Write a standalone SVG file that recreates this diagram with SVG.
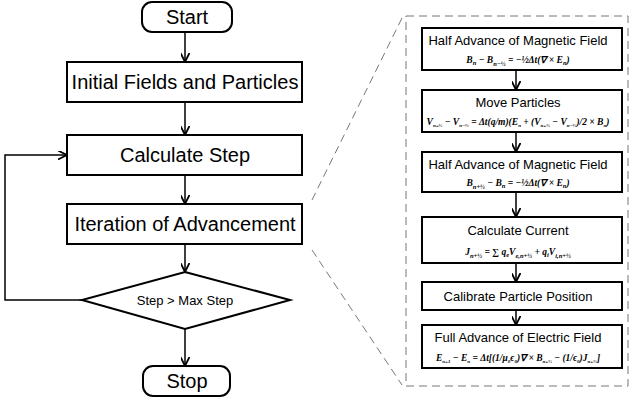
<svg xmlns="http://www.w3.org/2000/svg" width="630" height="400" viewBox="0 0 630 400">
<style>
.b{fill:#fff;stroke:#000;stroke-width:2}
.t{font-family:"Liberation Sans",Arial,sans-serif;fill:#000;text-anchor:middle}
.L{font-size:20px}.S{font-size:13px}
.f{font-family:"Liberation Serif","Times New Roman",serif;font-size:9.5px;text-anchor:middle;font-style:italic;font-weight:bold}
.c{stroke:#000;stroke-width:1.5;fill:none}
.d{stroke:#777;stroke-width:1;fill:none;stroke-dasharray:8 5}
</style>
<defs><marker id="a" viewBox="0 0 10 10" refX="9" refY="5" markerWidth="6" markerHeight="6" orient="auto"><path d="M0,0L10,5L0,10" fill="none" stroke="#000" stroke-width="2"/></marker></defs>
<g id="connectors">
<line class="c" x1="185" y1="32" x2="185" y2="61" marker-end="url(#a)"/>
<line class="c" x1="185" y1="102" x2="185" y2="134" marker-end="url(#a)"/>
<line class="c" x1="185" y1="175" x2="185" y2="203" marker-end="url(#a)"/>
<line class="c" x1="185" y1="244" x2="185" y2="271" marker-end="url(#a)"/>
<line class="c" x1="185" y1="329" x2="185" y2="365" marker-end="url(#a)"/>
<polyline class="c" points="82,300 5,300 5,155 66,155" marker-end="url(#a)"/>
<line class="c" x1="516" y1="70" x2="516" y2="89" marker-end="url(#a)"/>
<line class="c" x1="516" y1="132" x2="516" y2="151" marker-end="url(#a)"/>
<line class="c" x1="516" y1="192" x2="516" y2="216" marker-end="url(#a)"/>
<line class="c" x1="516" y1="263" x2="516" y2="281" marker-end="url(#a)"/>
<line class="c" x1="516" y1="310" x2="516" y2="324" marker-end="url(#a)"/>
<line class="d" x1="312" y1="200" x2="402" y2="18"/>
<line class="d" x1="312" y1="250" x2="402" y2="385"/>
<rect class="d" x="406" y="16" width="222" height="370"/>
</g>
<g id="start"><rect class="b" x="142" y="2" width="90" height="30" rx="10"/><text class="t L" x="187" y="24">Start</text></g>
<g id="init"><rect class="b" x="67" y="62" width="235" height="40"/><text class="t L" x="185" y="89">Initial Fields and Particles</text></g>
<g id="calc"><rect class="b" x="67" y="135" width="235" height="40"/><text class="t L" x="185" y="162">Calculate Step</text></g>
<g id="iter"><rect class="b" x="67" y="204" width="235" height="40"/><text class="t L" x="185" y="231">Iteration of Advancement</text></g>
<g id="dec"><polygon class="b" points="185,272 290,300 185,329 82,300"/><text class="t S" x="185" y="305">Step &gt; Max Step</text></g>
<g id="stop"><rect class="b" x="143" y="366" width="87" height="30" rx="10"/><text class="t L" x="187" y="388">Stop</text></g>
<g id="r1"><rect class="b" x="422" y="28" width="200" height="42"/><text class="t S" x="518" y="45">Half Advance of Magnetic Field</text><text class="f" x="518" y="63">B<tspan font-size="6.5" dy="2">n</tspan><tspan dy="-2"> − B</tspan><tspan font-size="6.5" dy="3">n−½</tspan><tspan dy="-3"> = −½Δt(∇ × E</tspan><tspan font-size="6.5" dy="2">n</tspan><tspan dy="-2">)</tspan></text></g>
<g id="r2"><rect class="b" x="422" y="90" width="200" height="42"/><text class="t S" x="518" y="107">Move Particles</text><text class="f" x="518" y="125" font-size="7.5">V<tspan font-size="5" dy="2">n+½</tspan><tspan dy="-2"> − V</tspan><tspan font-size="5" dy="2">n−½</tspan><tspan dy="-2"> = Δt(q/m)(E</tspan><tspan font-size="5" dy="2">n</tspan><tspan dy="-2"> + (V</tspan><tspan font-size="5" dy="2">n+½</tspan><tspan dy="-2"> − V</tspan><tspan font-size="5" dy="2">n−½</tspan><tspan dy="-2">)/2 × B</tspan><tspan font-size="5" dy="2">n</tspan><tspan dy="-2">)</tspan></text></g>
<g id="r3"><rect class="b" x="422" y="152" width="200" height="40"/><text class="t S" x="518" y="169">Half Advance of Magnetic Field</text><text class="f" x="518" y="186">B<tspan font-size="6.5" dy="3">n+½</tspan><tspan dy="-3"> − B</tspan><tspan font-size="6.5" dy="2">n</tspan><tspan dy="-2"> = −½Δt(∇ × E</tspan><tspan font-size="6.5" dy="2">n</tspan><tspan dy="-2">)</tspan></text></g>
<g id="r4"><rect class="b" x="422" y="217" width="200" height="46"/><text class="t S" x="518" y="235">Calculate Current</text><text class="f" x="518" y="255">J<tspan font-size="6.5" dy="3">n+½</tspan><tspan dy="-3"> = ∑ q</tspan><tspan font-size="6.5" dy="2">e</tspan><tspan dy="-2">V</tspan><tspan font-size="6.5" dy="3">e,n+½</tspan><tspan dy="-3"> + q</tspan><tspan font-size="6.5" dy="2">i</tspan><tspan dy="-2">V</tspan><tspan font-size="6.5" dy="3">i,n+½</tspan></text></g>
<g id="r5"><rect class="b" x="422" y="282" width="200" height="28"/><text class="t S" x="518" y="301">Calibrate Particle Position</text></g>
<g id="r6"><rect class="b" x="422" y="325" width="200" height="43"/><text class="t S" x="518" y="342">Full Advance of Electric Field</text><text class="f" x="518" y="361" font-size="7.5">E<tspan font-size="5" dy="2">n+1</tspan><tspan dy="-2"> − E</tspan><tspan font-size="5" dy="2">n</tspan><tspan dy="-2"> = Δt[(1/μ</tspan><tspan font-size="5" dy="2">0</tspan><tspan dy="-2">ϵ</tspan><tspan font-size="5" dy="2">0</tspan><tspan dy="-2">)∇ × B</tspan><tspan font-size="5" dy="2">n+½</tspan><tspan dy="-2"> − (1/ϵ</tspan><tspan font-size="5" dy="2">0</tspan><tspan dy="-2">)J</tspan><tspan font-size="5" dy="2">n+½</tspan><tspan dy="-2">]</tspan></text></g>
</svg>
